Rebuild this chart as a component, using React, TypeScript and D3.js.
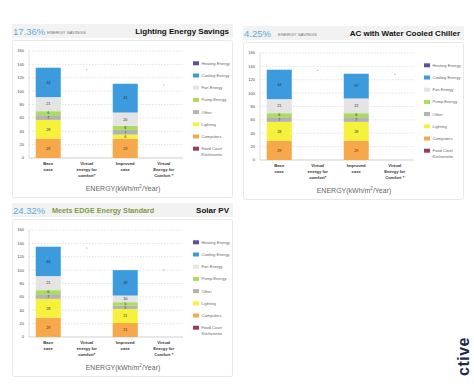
import React from 'react';
import * as d3 from 'd3';

// categories on the x axis
const categories = ['Base case', 'Virtual energy for comfort*', 'Improved case', 'Virtual Energy for Comfort *'];
const categoryLines = [['Base', 'case'], ['Virtual', 'energy for', 'comfort*'], ['Improved', 'case'], ['Virtual', 'Energy for', 'Comfort *']];

// stack order bottom -> top
const seriesNames = ['Computers', 'Lighting', 'Other', 'Pump Energy', 'Fan Energy', 'Cooling Energy', 'Heating Energy', 'Food Court Kitchenette'];
const seriesColors = ['#f7a84a', '#f6f23c', '#b3b3b3', '#a9dd5a', '#e4e4e4', '#3b9bdc', '#5d4f98', '#9b3c5f'];
const legendNames = ['Heating Energy', 'Cooling Energy', 'Fan Energy', 'Pump Energy', 'Other', 'Lighting', 'Computers', 'Food Court Kitchenette'];

const yTicks = [0, 20, 40, 60, 80, 100, 120, 140, 160];

// values for [Base case, Improved case], per series (same order as seriesNames)
const lightingBase = [29, 28, 7, 6, 21, 44, 0, 0];
const lightingImproved = [29, 6, 7, 6, 20, 43, 0, 0];
const chillerBase = [29, 28, 7, 6, 21, 44, 0, 0];
const chillerImproved = [29, 28, 7, 6, 22, 37, 0, 0];
const solarBase = [29, 28, 7, 6, 21, 44, 0, 0];
const solarImproved = [21, 21, 5, 5, 10, 38, 0, 0];

// tiny markers for the virtual comfort columns
const lightingVirtual = [132, 109];
const chillerVirtual = [134, 128];
const solarVirtual = [133, 100];

const FONT = '"Liberation Sans", Arial, sans-serif';

interface PanelProps {
  dx: number;
  dy: number;
  pct: string;
  label: string;
  labelGreen?: boolean;
  title: string;
  base: number[];
  improved: number[];
  virtual: number[];
}

const Panel: React.FC<PanelProps> = ({ dx, dy, pct, label, labelGreen, title, base, improved, virtual }) => {
  const cardTop = 40;
  const x = d3.scaleBand().domain(categories).range([29, 183]).paddingInner(0.35).paddingOuter(0.175);
  const y = d3.scaleLinear().domain([0, 160]).range([cardTop + 118, cardTop + 11]);

  const stacks = [
    { cat: categories[0], vals: base },
    { cat: categories[2], vals: improved },
  ];

  return (
    <g transform={`translate(${dx},${dy})`}>
      {/* header */}
      <rect x={12} y={24} width={221} height={14} fill="#f2f2f2" />
      <text x={13} y={34.5} fontSize={9.5} fill="#5aaede" fontFamily={FONT}>{pct}</text>
      {labelGreen ? (
        <text x={52} y={34} fontSize={7.2} fontWeight="bold" fill="#7d9b45" fontFamily={FONT}>{label}</text>
      ) : (
        <text x={47} y={33.5} fontSize={4.4} fill="#777" fontFamily={FONT}>{label}</text>
      )}
      <text x={229} y={34} fontSize={8} fontWeight="bold" fill="#111" textAnchor="end" fontFamily={FONT}>{title}</text>

      {/* card */}
      <rect x={12.5} y={cardTop + 0.5} width={220} height={157} fill="#fff" stroke="#e8e8e8" rx={2} />

      {/* grid + y ticks */}
      {yTicks.map(t => (
        <g key={t}>
          {t > 0 && (
            <line x1={29} x2={183} y1={y(t)} y2={y(t)} stroke="#cfcfcf" strokeWidth={0.6} strokeDasharray="1.5,1.5" />
          )}
          <text x={24} y={y(t) + 1.4} fontSize={4} fill="#444" textAnchor="end" fontFamily={FONT}>{t}</text>
        </g>
      ))}
      <line x1={29} x2={29} y1={y(160)} y2={y(0)} stroke="#cccccc" strokeWidth={0.6} />
      <line x1={29} x2={183} y1={y(0)} y2={y(0)} stroke="#bbbbbb" strokeWidth={0.7} />

      {/* stacked bars */}
      {stacks.map(s => {
        let acc = 0;
        return (
          <g key={s.cat}>
            {s.vals.map((v, i) => {
              const y0 = acc;
              acc += v;
              if (v <= 0) return null;
              const top = y(y0 + v);
              const h = y(y0) - top;
              return (
                <g key={i}>
                  <rect x={x(s.cat)} y={top} width={x.bandwidth()} height={h} fill={seriesColors[i]} />
                  <text x={(x(s.cat) || 0) + x.bandwidth() / 2} y={top + h / 2 + 1.3} fontSize={3.8} fill="#333" textAnchor="middle" fontFamily={FONT}>{v}</text>
                </g>
              );
            })}
          </g>
        );
      })}

      {/* virtual markers */}
      {virtual.map((v, i) => {
        const cat = categories[i * 2 + 1];
        const cx = (x(cat) || 0) + x.bandwidth() / 2;
        return <line key={i} x1={cx - 0.6} x2={cx + 0.6} y1={y(v)} y2={y(v)} stroke="#999" strokeWidth={0.8} />;
      })}

      {/* category labels */}
      {categories.map((c, i) => (
        <text key={c} x={(x(c) || 0) + x.bandwidth() / 2} y={y(0) + 6.5} fontSize={4.2} fontWeight="bold" fill="#333" textAnchor="middle" fontFamily={FONT}>
          {categoryLines[i].map((ln, j) => (
            <tspan key={j} x={(x(c) || 0) + x.bandwidth() / 2} dy={j === 0 ? 0 : 6}>{ln}</tspan>
          ))}
        </text>
      ))}

      {/* axis title */}
      <text x={123} y={cardTop + 150.5} fontSize={7} fill="#666" textAnchor="middle" fontFamily={FONT}>
        ENERGY(kWh/m<tspan fontSize={4.5} dy={-2.5}>2</tspan><tspan dy={2.5}>/Year)</tspan>
      </text>

      {/* legend */}
      {legendNames.map((n, i) => {
        const ly = cardTop + 23.3 + i * 12.2;
        const col = seriesColors[seriesNames.indexOf(n)];
        const lines = n === 'Food Court Kitchenette' ? ['Food Court', 'Kitchenette'] : [n];
        return (
          <g key={n}>
            <rect x={193} y={ly - 2} width={6} height={4} fill={col} />
            <text x={201.5} y={ly + 1.4} fontSize={4.1} fill="#666" fontFamily={FONT}>
              {lines.map((ln, j) => (
                <tspan key={j} x={201.5} dy={j === 0 ? 0 : 5.5}>{ln}</tspan>
              ))}
            </text>
          </g>
        );
      })}
    </g>
  );
};

const App: React.FC = () => (
  <div style={{ position: 'absolute', left: 0, top: 0 }}>
    <svg width={474} height={387} style={{ display: 'block', background: '#fff' }}>
      <Panel dx={0} dy={0} pct="17.36%" label="ENERGY SAVINGS" title="Lighting Energy Savings" base={lightingBase} improved={lightingImproved} virtual={lightingVirtual} />
      <Panel dx={231} dy={2} pct="4.25%" label="ENERGY SAVINGS" title="AC with Water Cooled Chiller" base={chillerBase} improved={chillerImproved} virtual={chillerVirtual} />
      <Panel dx={0} dy={179} pct="24.32%" label="Meets EDGE Energy Standard" labelGreen title="Solar PV" base={solarBase} improved={solarImproved} virtual={solarVirtual} />
      <text transform="translate(469,337) rotate(-90)" fontSize={16} fontWeight="bold" fill="#1c2b4d" textAnchor="end" letterSpacing={0.5} fontFamily={FONT}>ctive</text>
    </svg>
  </div>
);

export default App;
